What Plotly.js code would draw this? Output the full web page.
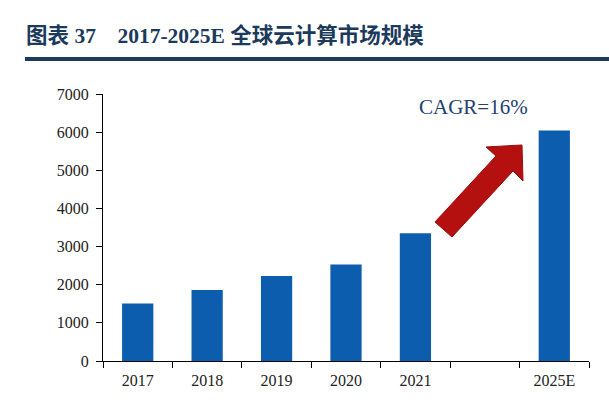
<!DOCTYPE html>
<html>
<head>
<meta charset="utf-8">
<script src="https://cdn.plot.ly/plotly-3.0.1.min.js"></script>
<style>
html,body{margin:0;padding:0;background:#fff;}
#chart{width:609px;height:406px;}
</style>
</head>
<body>
<div id="chart"></div>
<script>
// Data
var categories = ["2017", "2018", "2019", "2020", "2021", " ", "2025E"];
var marketSize = [1510, 1860, 2230, 2530, 3350, null, 6040];
var yTicks = [0, 1000, 2000, 3000, 4000, 5000, 6000, 7000];
var chartTitle = "图表 37　2017-2025E 全球云计算市场规模";
var cagrLabel = "CAGR=16%";

var serif = "'Liberation Serif', 'Times New Roman', 'Noto Sans CJK SC', serif";

var trace = {
  type: "bar",
  x: categories,
  y: marketSize,
  marker: { color: "#0C5DAE" },
  width: 0.45,
  hoverinfo: "x+y"
};

// Arrow polygon in paper coords (decoration)
var arrowPts = [
  [0.6831, 0.5206], [0.8086, 0.7678], [0.7881, 0.8015], [0.8621, 0.8090],
  [0.8642, 0.6742], [0.8436, 0.7116], [0.7181, 0.4644]
];
var arrowPath = "M" + arrowPts.map(function(p){ return p[0] + "," + p[1]; }).join(" L") + " Z";

var layout = {
  width: 609,
  height: 406,
  margin: { l: 103, r: 20, t: 94, b: 45 },
  paper_bgcolor: "#ffffff",
  plot_bgcolor: "#ffffff",
  showlegend: false,
  title: {
    text: "<b>" + chartTitle + "</b>",
    x: 26 / 609,
    xanchor: "left",
    xref: "container",
    y: 1 - 35 / 406,
    yanchor: "middle",
    yref: "container",
    font: { family: serif, size: 21.5, color: "#1B3A5C" }
  },
  xaxis: {
    type: "category",
    categoryorder: "array",
    categoryarray: categories,
    range: [-0.5, 6.5],
    showline: true,
    linecolor: "#000",
    linewidth: 1,
    ticks: "outside",
    tickson: "boundaries",
    ticklen: 6,
    tickcolor: "#000",
    ticklabelstandoff: 5,
    showgrid: false,
    zeroline: false,
    tickfont: { family: serif, size: 16, color: "#222" }
  },
  yaxis: {
    range: [0, 7000],
    tickvals: yTicks,
    showline: true,
    linecolor: "#000",
    linewidth: 1,
    ticks: "outside",
    ticklen: 6,
    tickcolor: "#000",
    ticklabelstandoff: 4,
    showgrid: false,
    zeroline: false,
    tickfont: { family: serif, size: 16, color: "#222" }
  },
  shapes: [
    {
      type: "line", xref: "paper", yref: "paper",
      x0: (25 - 103) / 486, x1: (609 - 103) / 486,
      y0: (361 - 59) / 267, y1: (361 - 59) / 267,
      line: { color: "#1B3A5C", width: 4 }
    },
    {
      type: "path", xref: "paper", yref: "paper",
      path: arrowPath,
      fillcolor: "#B3100F",
      line: { color: "#9A0B0B", width: 1 }
    }
  ],
  annotations: [
    {
      text: cagrLabel, xref: "paper", yref: "paper",
      x: (473 - 103) / 486, y: (361 - 107) / 267,
      xanchor: "center", yanchor: "middle", showarrow: false,
      font: { family: serif, size: 21, color: "#243F6E" }
    }
  ]
};

Plotly.newPlot("chart", [trace], layout, { displayModeBar: false, staticPlot: true });
</script>
</body>
</html>
